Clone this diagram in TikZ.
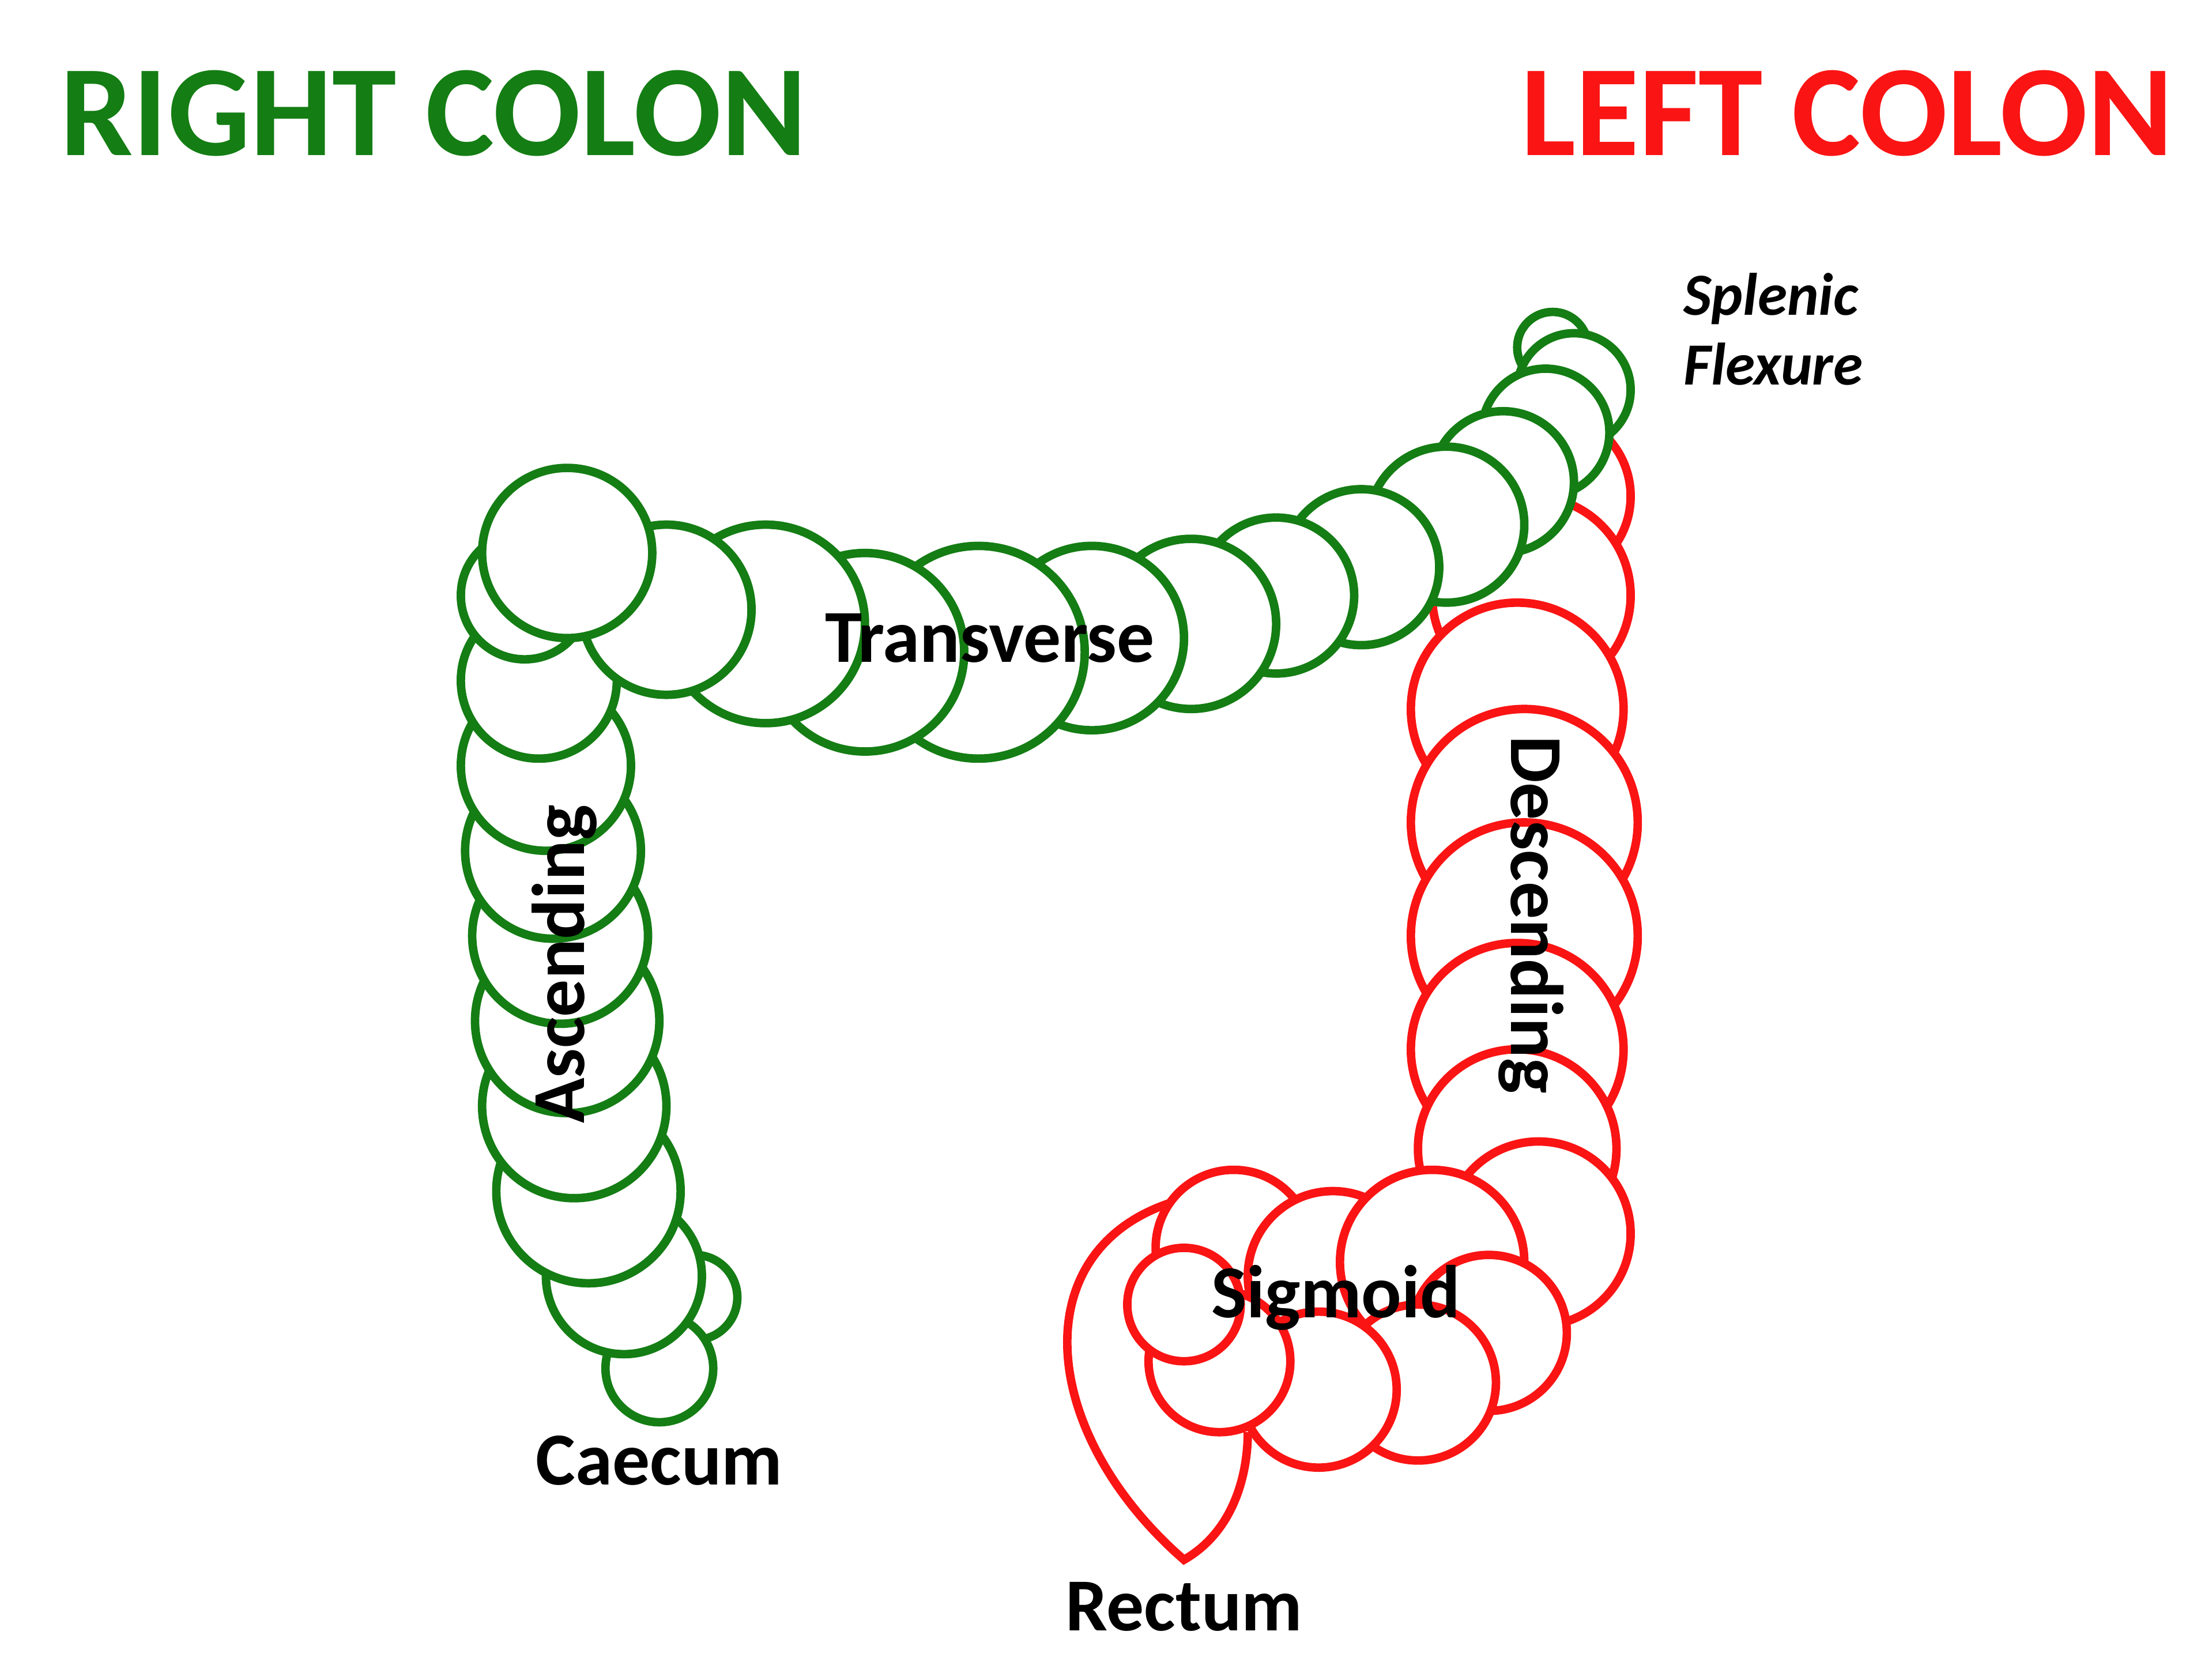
\documentclass[tikz,border=0pt]{standalone}
\usepackage{fontspec}
\setmainfont{Carlito}
\definecolor{rightgreen}{RGB}{20,125,20}
\definecolor{leftred}{RGB}{250,20,20}
\begin{document}
\begin{tikzpicture}[x=0.01cm,y=-0.01cm]
	\useasboundingbox (0,0) rectangle (1560,1177);
	\tikzset{greengut/.style={draw=rightgreen, fill=white, line width=1.7pt},
		redgut/.style={draw=leftred, fill=white, line width=1.7pt},
		label/.style={font=\fontsize{15}{18}\selectfont\bfseries}}
	
	\node[font=\fontsize{26}{30}\selectfont\bfseries, text=rightgreen, anchor=west] (right) at (30,80) {RIGHT COLON};
	\node[font=\fontsize{26}{30}\selectfont\bfseries, text=leftred, anchor=east] (left) at (1545,80) {LEFT COLON};
	
	\draw[redgut] (870,840) .. controls (720,850) and (720,1000) .. (835,1100) .. controls (870,1080) and (880,1040) .. (880,1010);
	\foreach \x/\y/\r in {1090/350/60, 1080/420/70, 1070/500/75, 1075/580/80, 1075/660/80, 1070/740/75, 1070/810/70, 1085/870/65}
		\draw[redgut] (\x,\y) circle (\r);
	\foreach \x/\y/\r in {870/880/55, 940/900/60, 1010/890/65, 1050/940/55, 1000/975/55, 930/980/55, 860/960/50, 835/920/40}
		\draw[redgut] (\x,\y) circle (\r);
	
	\foreach \x/\y/\r in {490/915/30, 465/965/38, 440/900/55, 415/840/65, 405/780/65, 400/720/65, 395/660/62, 390/600/62, 385/540/60, 380/480/55, 370/420/45}
		\draw[greengut] (\x,\y) circle (\r);
	\foreach \x/\y/\r in {1095/245/25, 1110/275/40, 1090/305/45, 1060/340/50, 1020/370/55, 960/400/55, 900/420/55, 840/440/60, 770/450/65, 690/460/75, 610/460/70, 540/440/70, 470/430/60, 400/390/60}
		\draw[greengut] (\x,\y) circle (\r);
	
	\node[label] (transverse) at (698,450) {Transverse};
	\node[label, rotate=90] (ascending) at (398,680) {Ascending};
	\node[label, rotate=-90] (descending) at (1080,645) {Descending};
	\node[label] (sigmoid) at (942,915) {Sigmoid};
	\node[label] (caecum) at (465,1030) {Caecum};
	\node[label] (rectum) at (835,1133) {Rectum};
	\node[font=\fontsize{12}{14}\selectfont\bfseries\itshape, align=left, anchor=west] (splenic) at (1175,232) {Splenic\\Flexure};
\end{tikzpicture}
\end{document}
